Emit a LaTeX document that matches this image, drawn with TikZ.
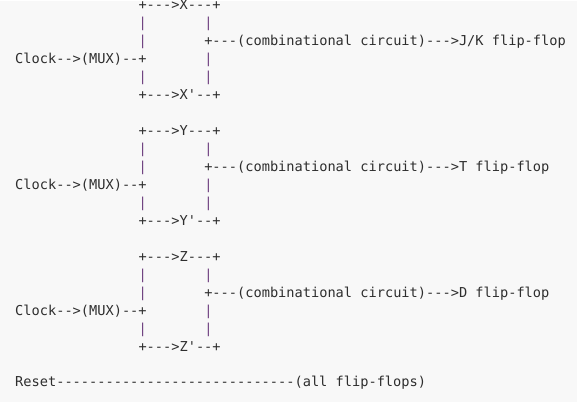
\documentclass[tikz,border=0pt]{standalone}
\usepackage{fontspec}
\setmonofont{DejaVu Sans Mono}
\usepackage{xcolor}
\usepackage{tikz}
\definecolor{C_BG}{HTML}{F8F8F8}
\definecolor{C_TXT}{HTML}{2E2E2E}
\definecolor{C_BAR}{HTML}{6E3F7F}

\begin{document}
\begin{tikzpicture}[
  x=8.22pt, y=-17.95pt,
  ascii/.style={font=\ttfamily\fontsize{13.65}{18}\selectfont, text=C_TXT,
                inner sep=0pt, anchor=base west},
  bar/.style={ascii, text=C_BAR},
]
%% Page
\fill[C_BG] (-15pt,8.5pt) rectangle (562pt,-392.5pt);

%% Block X -> J/K flip-flop
\node[ascii] (xtop)  at (15,0) {+--->X---+};
\node[bar]   (xl1)   at (15,1) {|};
\node[bar]   (xr1)   at (23,1) {|};
\node[bar]   (xl2)   at (15,2) {|};
\node[ascii] (xcomb) at (23,2) {+---(combinational circuit)--->J/K flip-flop};
\node[ascii] (xclk)  at (0,3)  {Clock-->(MUX)--+};
\node[bar]   (xr3)   at (23,3) {|};
\node[bar]   (xl4)   at (15,4) {|};
\node[bar]   (xr4)   at (23,4) {|};
\node[ascii] (xbot)  at (15,5) {+--->X'--+};

%% Block Y -> T flip-flop
\node[ascii] (ytop)  at (15,7)  {+--->Y---+};
\node[bar]   (yl1)   at (15,8)  {|};
\node[bar]   (yr1)   at (23,8)  {|};
\node[bar]   (yl2)   at (15,9)  {|};
\node[ascii] (ycomb) at (23,9)  {+---(combinational circuit)--->T flip-flop};
\node[ascii] (yclk)  at (0,10)  {Clock-->(MUX)--+};
\node[bar]   (yr3)   at (23,10) {|};
\node[bar]   (yl4)   at (15,11) {|};
\node[bar]   (yr4)   at (23,11) {|};
\node[ascii] (ybot)  at (15,12) {+--->Y'--+};

%% Block Z -> D flip-flop
\node[ascii] (ztop)  at (15,14) {+--->Z---+};
\node[bar]   (zl1)   at (15,15) {|};
\node[bar]   (zr1)   at (23,15) {|};
\node[bar]   (zl2)   at (15,16) {|};
\node[ascii] (zcomb) at (23,16) {+---(combinational circuit)--->D flip-flop};
\node[ascii] (zclk)  at (0,17)  {Clock-->(MUX)--+};
\node[bar]   (zr3)   at (23,17) {|};
\node[bar]   (zl4)   at (15,18) {|};
\node[bar]   (zr4)   at (23,18) {|};
\node[ascii] (zbot)  at (15,19) {+--->Z'--+};

%% Reset line
\node[ascii] (reset) at (0,21) {Reset-----------------------------(all flip-flops)};

\end{tikzpicture}
\end{document}
